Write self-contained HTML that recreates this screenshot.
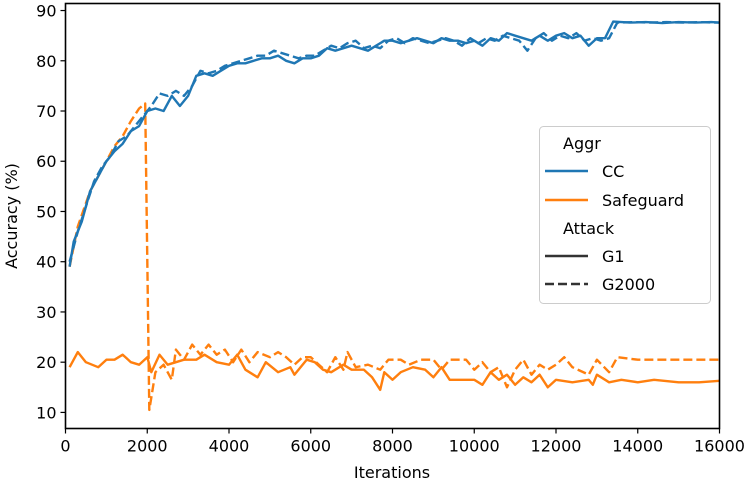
<!DOCTYPE html>
<html><head><meta charset="utf-8"><style>
html,body{margin:0;padding:0;background:#fff;}
svg{display:block;font-family:"DejaVu Sans","Liberation Sans",sans-serif;}
</style></head><body>
<svg id="chart" width="752" height="485" viewBox="0 0 752 485">
<g id="grid-ticks"></g>
<g id="series"></g>
<rect x="65.5" y="3.5" width="654" height="425" fill="none" stroke="#000" stroke-width="1.6"/>
<text x="392" y="478" font-size="16" text-anchor="middle">Iterations</text>
<text transform="translate(17,216) rotate(-90)" font-size="16" text-anchor="middle">Accuracy (%)</text>
<g>
<rect x="539.5" y="126.5" width="171" height="177" rx="4" fill="#fff" fill-opacity="0.85" stroke="#ccc" stroke-width="1"/>
<text x="563" y="149" font-size="16">Aggr</text>
<line x1="545" y1="171" x2="588" y2="171" stroke="#1f77b4" stroke-width="2.5"/>
<text x="602" y="177" font-size="16">CC</text>
<line x1="545" y1="200" x2="588" y2="200" stroke="#ff7f0e" stroke-width="2.5"/>
<text x="602" y="206" font-size="16">Safeguard</text>
<text x="563" y="234" font-size="16">Attack</text>
<line x1="545" y1="256" x2="588" y2="256" stroke="#333" stroke-width="2.5"/>
<text x="602" y="262" font-size="16">G1</text>
<line x1="545" y1="284" x2="588" y2="284" stroke="#333" stroke-width="2.5" stroke-dasharray="9,4"/>
<text x="602" y="290" font-size="16">G2000</text>
</g>
</svg>
<script>
const xTicks=[0,2000,4000,6000,8000,10000,12000,14000,16000];
const yTicks=[10,20,30,40,50,60,70,80,90];
const ccG1X=[100,200,400,600,800,1000,1200,1400,1600,1800,2000,2200,2400,2600,2800,3000,3200,3400,3600,3800,4000,4200,4400,4600,4800,5000,5200,5400,5600,5800,6000,6200,6400,6600,6800,7000,7200,7400,7600,7800,8000,8200,8400,8600,8800,9000,9200,9400,9600,9800,10000,10200,10400,10600,10800,11000,11200,11400,11600,11800,12000,12200,12400,12600,12800,13000,13200,13400,13800,14200,14600,15000,15400,15800,16000];
const ccG1Y=[39,44,48,54,57,60,62,63.5,66,67,70,70.5,70,73,71,73,77,77.5,77,78,79,79.5,79.5,80,80.5,80.5,81,80,79.5,80.5,80.5,81,82.5,82,82.5,83,82.5,82,83,84,84,83.5,84,84.5,84,83.5,84.5,84,84,83.5,84,83,84.5,84,85.5,85,84.5,84,85,84,85,85.5,84.5,85,83,84.5,84.5,87.8,87.6,87.7,87.5,87.7,87.6,87.7,87.6];
const ccG2000X=[100,300,500,700,900,1100,1300,1500,1700,1900,2100,2300,2500,2700,2900,3100,3300,3500,3700,3900,4100,4300,4500,4700,4900,5100,5300,5500,5700,5900,6100,6300,6500,6700,6900,7100,7300,7500,7700,7900,8100,8300,8500,8700,8900,9100,9300,9500,9700,9900,10100,10300,10500,10700,10900,11100,11300,11500,11700,11900,12100,12300,12500,12700,12900,13100,13300,13500,13900,14300,14700,15100,15500,15900,16000];
const ccG2000Y=[40,46,51,56,59,61,64,65,67,69,71,73.5,73,74,73,75,78,77.5,78,79,79.5,80,80.5,81,81,82,81.5,81,80.5,81,81,82,83,82.5,83.5,84,82.5,83,82.5,84,84.5,83.5,84.5,84,83.5,84,84.5,84,83,84.5,83.5,84.5,84,85,84.5,84,82,84.5,85.5,84,85,84.5,85.5,84,84.5,84,84.5,87.6,87.7,87.6,87.7,87.6,87.7,87.6,87.6];
const sgG1X=[100,300,500,800,1000,1200,1400,1600,1800,2000,2100,2300,2500,2700,2900,3200,3400,3700,4000,4200,4400,4700,4900,5200,5500,5600,5900,6100,6300,6500,6800,7000,7300,7500,7700,7800,8000,8200,8500,8800,9000,9200,9400,10000,10200,10400,10600,10800,11000,11200,11400,11600,11800,12000,12400,12800,12900,13000,13300,13600,14000,14400,15000,15500,16000];
const sgG1Y=[19,22,20,19,20.5,20.5,21.5,20,19.5,21,18,21.5,19.5,20,20.5,20.5,21.5,20,19.5,21.5,18.5,17,20,18,19,17.5,20.5,20,18.5,18,19.5,18.5,18.5,17,14.5,18,16.5,18,19,18.5,17,19,16.5,16.5,15.5,18,16.5,17.5,15.5,17,16,17.5,15,16.5,16,16.5,15.5,17.5,16,16.5,16,16.5,16,16,16.3];
const sgG2000X=[100,300,600,800,1000,1200,1400,1600,1800,1950,2050,2200,2400,2600,2700,2900,3100,3300,3500,3700,3900,4100,4300,4500,4700,5000,5200,5400,5600,5800,6000,6200,6400,6600,6800,6900,7100,7400,7700,7900,8200,8400,8700,9000,9200,9400,9800,10000,10200,10400,10600,10800,11000,11200,11400,11600,11800,12000,12200,12400,12800,13000,13300,13500,14000,14400,15000,15500,16000];
const sgG2000Y=[39,47,54,57,60,63,65,68,70.5,71.5,10.5,18,19.5,16.5,22.5,20.5,23.5,21.5,23.5,21.5,22.5,20,22.5,20,22,21,22,21,19.5,21,21,19.5,18,21,18.5,22,19,19.5,18.5,20.5,20.5,19.5,20.5,20.5,18.5,20.5,20.5,18.5,20,18,19,15,18.5,20.5,17.5,19.5,18.5,19.5,21,19,17.5,20.5,18,21,20.5,20.5,20.5,20.5,20.5];

const X0=65.5,X1=719.5,Y0=428.5,Y1=3.5,XMIN=0,XMAX=16000,YMIN=6.8,YMAX=91.4;
function sx(v){return X0+(v-XMIN)/(XMAX-XMIN)*(X1-X0);}
function sy(v){return Y0-(v-YMIN)/(YMAX-YMIN)*(Y0-Y1);}
const NS='http://www.w3.org/2000/svg';
const ax=document.getElementById('grid-ticks');
xTicks.forEach(t=>{
  const l=document.createElementNS(NS,'line');
  l.setAttribute('x1',sx(t));l.setAttribute('x2',sx(t));l.setAttribute('y1',Y0);l.setAttribute('y2',Y0+5);
  l.setAttribute('stroke','#000');l.setAttribute('stroke-width','1.2');
  
  
  ax.appendChild(l);
  const tx=document.createElementNS(NS,'text');
  tx.setAttribute('x',sx(t));tx.setAttribute('y',Y0+23);tx.setAttribute('font-size','16');tx.setAttribute('text-anchor','middle');
  tx.textContent=t;
  
  
  ax.appendChild(tx);
});
yTicks.forEach(t=>{
  const l=document.createElementNS(NS,'line');
  l.setAttribute('x1',X0-5);l.setAttribute('x2',X0);l.setAttribute('y1',sy(t));l.setAttribute('y2',sy(t));
  l.setAttribute('stroke','#000');l.setAttribute('stroke-width','1.2');
  
  
  ax.appendChild(l);
  const tx=document.createElementNS(NS,'text');
  tx.setAttribute('x',X0-9);tx.setAttribute('y',sy(t)+6);tx.setAttribute('font-size','16');tx.setAttribute('text-anchor','end');
  tx.textContent=t;
  
  
  ax.appendChild(tx);
});
const sg=document.getElementById('series');
function draw(xs,ys,color,dash,name){
  const p=document.createElementNS(NS,'polyline');
  p.setAttribute('points',xs.map((x,i)=>sx(x).toFixed(1)+','+sy(ys[i]).toFixed(1)).join(' '));
  p.setAttribute('fill','none');p.setAttribute('stroke',color);p.setAttribute('stroke-width','2.4');
  p.setAttribute('stroke-linejoin','round');
  if(dash)p.setAttribute('stroke-dasharray','9,4');
  
  
  sg.appendChild(p);
}
draw(sgG1X,sgG1Y,'#ff7f0e',false,'line-safeguard-g1');
draw(sgG2000X,sgG2000Y,'#ff7f0e',true,'line-safeguard-g2000');
draw(ccG1X,ccG1Y,'#1f77b4',false,'line-cc-g1');
draw(ccG2000X,ccG2000Y,'#1f77b4',true,'line-cc-g2000');
</script>
</body></html>
